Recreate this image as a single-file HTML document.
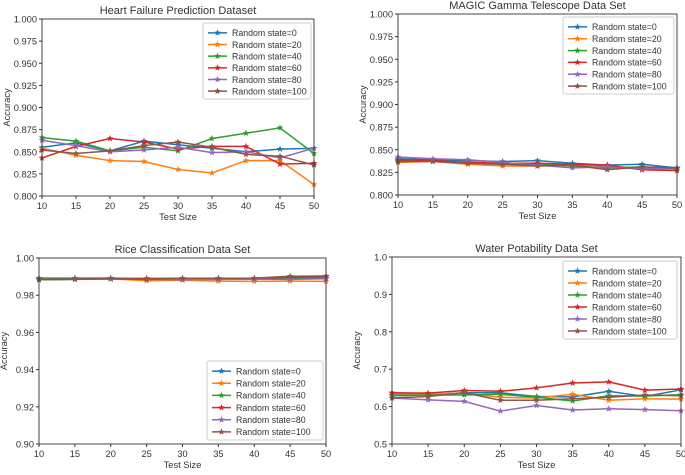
<!DOCTYPE html>
<html><head><meta charset="utf-8"><style>
body{margin:0;background:#fff;width:685px;height:470px;overflow:hidden}
svg{font-family:"Liberation Sans","DejaVu Sans",sans-serif}
</style></head><body>
<svg id="s" width="685" height="470"></svg>
<script>
const xValues=[10,15,20,25,30,35,40,45,50];
const seriesNames=["Random state=0","Random state=20","Random state=40","Random state=60","Random state=80","Random state=100"];
const colors=["#1f77b4","#ff7f0e","#2ca02c","#d62728","#9467bd","#8c564b"];
const heartVals=[
[.855,.860,.851,.862,.858,.854,.850,.853,.854],
[.854,.846,.840,.839,.830,.826,.840,.840,.813],
[.866,.862,.851,.855,.851,.865,.871,.877,.848],
[.843,.856,.865,.861,.853,.856,.856,.836,.837],
[.863,.857,.850,.852,.855,.849,.850,.843,.854],
[.852,.848,.851,.857,.861,.855,.847,.845,.835]];
const magicVals=[
[.840,.839,.838,.837,.838,.835,.833,.834,.830],
[.836,.837,.834,.832,.832,.833,.832,.828,.829],
[.838,.838,.835,.834,.834,.832,.830,.831,.829],
[.839,.838,.836,.835,.835,.834,.833,.828,.827],
[.842,.840,.839,.836,.833,.830,.831,.829,.830],
[.837,.837,.835,.834,.832,.833,.828,.831,.830]];
const riceVals=[
[.9892,.9892,.9892,.9888,.9888,.9888,.9888,.9890,.9892],
[.9885,.9885,.9888,.9878,.9880,.9876,.9874,.9876,.9874],
[.9890,.9890,.9890,.9889,.9889,.9889,.9889,.9890,.9891],
[.9884,.9886,.9890,.9890,.9891,.9891,.9891,.9897,.9900],
[.9883,.9885,.9887,.9885,.9884,.9885,.9886,.9885,.9888],
[.9883,.9886,.9888,.9886,.9891,.9891,.9892,.9902,.9903]];
const waterVals=[
[.630,.632,.637,.637,.627,.626,.641,.627,.645],
[.635,.633,.636,.625,.623,.633,.617,.621,.620],
[.629,.631,.631,.633,.625,.615,.629,.628,.632],
[.637,.636,.643,.641,.650,.663,.666,.644,.647],
[.623,.618,.614,.588,.603,.591,.594,.592,.589],
[.623,.627,.637,.617,.617,.621,.625,.631,.629]];
const heartTicks=[0.800,0.825,0.850,0.875,0.900,0.925,0.950,0.975,1.000];
const riceTicks=[0.90,0.92,0.94,0.96,0.98,1.00];
const waterTicks=[0.5,0.6,0.7,0.8,0.9,1.0];

const svg=document.getElementById('s');const NS='http://www.w3.org/2000/svg';
function mk(tag,attrs,parent){const e=document.createElementNS(NS,tag);for(const k in attrs)e.setAttribute(k,attrs[k]);(parent||svg).appendChild(e);return e;}
function star(cx,cy,r){let p=[];for(let i=0;i<10;i++){const a=-Math.PI/2+i*Math.PI/5;const rr=i%2?r*0.42:r;p.push((cx+rr*Math.cos(a)).toFixed(1)+','+(cy+rr*Math.sin(a)).toFixed(1));}return p.join(' ');}
function plot(cfg){
 const g=mk('g',{});
 
 
 const xs=v=>cfg.x0+(v-10)/40*(cfg.x1-cfg.x0);
 const ys=v=>cfg.y1+(v-cfg.ymin)/(cfg.ymax-cfg.ymin)*(cfg.y0-cfg.y1);
 const t=mk('text',{x:(cfg.x0+cfg.x1)/2,y:cfg.y0-5,'text-anchor':'middle','font-size':11,fill:'#333'},g);t.textContent=cfg.title;
 
 cfg.ticks.forEach(v=>{const y=ys(v);mk('line',{x1:cfg.x0-3,x2:cfg.x0,y1:y,y2:y,stroke:'#333'},g);
  const l=mk('text',{x:cfg.x0-5,y:y+3.5,'text-anchor':'end','font-size':9.3,fill:'#333'},g);l.textContent=v.toFixed(cfg.dec);
  });
 xValues.forEach(v=>{const x=xs(v);mk('line',{x1:x,x2:x,y1:cfg.y1,y2:cfg.y1+3,stroke:'#333'},g);
  const l=mk('text',{x:x,y:cfg.y1+13,'text-anchor':'middle','font-size':9.3,fill:'#333'},g);l.textContent=v;
  });
 const xl=mk('text',{x:(cfg.x0+cfg.x1)/2,y:cfg.y1+24,'text-anchor':'middle','font-size':9.3,fill:'#333'},g);xl.textContent='Test Size';
 
 const yl=mk('text',{x:0,y:0,'text-anchor':'middle','font-size':9.3,fill:'#333',transform:`translate(${cfg.x0-32},${(cfg.y0+cfg.y1)/2}) rotate(-90)`},g);yl.textContent='Accuracy';
 
 cfg.data.forEach((s,i)=>{const pts=s.map((v,j)=>xs(xValues[j]).toFixed(1)+','+ys(v).toFixed(1)).join(' ');
  const pl=mk('polyline',{points:pts,fill:'none',stroke:colors[i],'stroke-width':1.5},g);
  
  s.forEach((v,j)=>{const m=mk('polygon',{points:star(xs(xValues[j]),ys(v),3.6),fill:colors[i]},g);
   });});
 mk('rect',{x:cfg.x0,y:cfg.y0,width:cfg.x1-cfg.x0,height:cfg.y1-cfg.y0,fill:'none',stroke:'#333','stroke-width':0.9},g);
 const L=cfg.leg;const lg=mk('g',{},g);
 
 mk('rect',{x:L.x,y:L.y,width:L.w,height:L.h,fill:'#fff',stroke:'#ccc',rx:2},lg);
 const step=(L.h-6)/6;
 seriesNames.forEach((n,i)=>{const y=L.y+4+step*(i+0.5);
  mk('line',{x1:L.x+5,x2:L.x+24,y1:y,y2:y,stroke:colors[i],'stroke-width':1.5},lg);
  mk('polygon',{points:star(L.x+14.5,y,3.6),fill:colors[i]},lg);
  const tx=mk('text',{x:L.x+29,y:y+3.3,'font-size':8.8,fill:'#333'},lg);tx.textContent=n;
  });
}
plot({name:'heart-failure-chart',title:'Heart Failure Prediction Dataset',x0:42,x1:314,y0:19,y1:196,ymin:0.8,ymax:1.0,ticks:heartTicks,dec:3,data:heartVals,leg:{x:203,y:23,w:108,h:76}});
plot({name:'magic-gamma-chart',title:'MAGIC Gamma Telescope Data Set',x0:398,x1:677,y0:14,y1:195,ymin:0.8,ymax:1.0,ticks:heartTicks,dec:3,data:magicVals,leg:{x:563,y:17,w:111,h:77}});
plot({name:'rice-classification-chart',title:'Rice Classification Data Set',x0:39,x1:326,y0:258,y1:444,ymin:0.9,ymax:1.0,ticks:riceTicks,dec:2,data:riceVals,leg:{x:207,y:361,w:116,h:79}});
plot({name:'water-potability-chart',title:'Water Potability Data Set',x0:392,x1:681,y0:257,y1:444,ymin:0.5,ymax:1.0,ticks:waterTicks,dec:1,data:waterVals,leg:{x:563,y:261,w:114,h:78}});
</script>
</body></html>
